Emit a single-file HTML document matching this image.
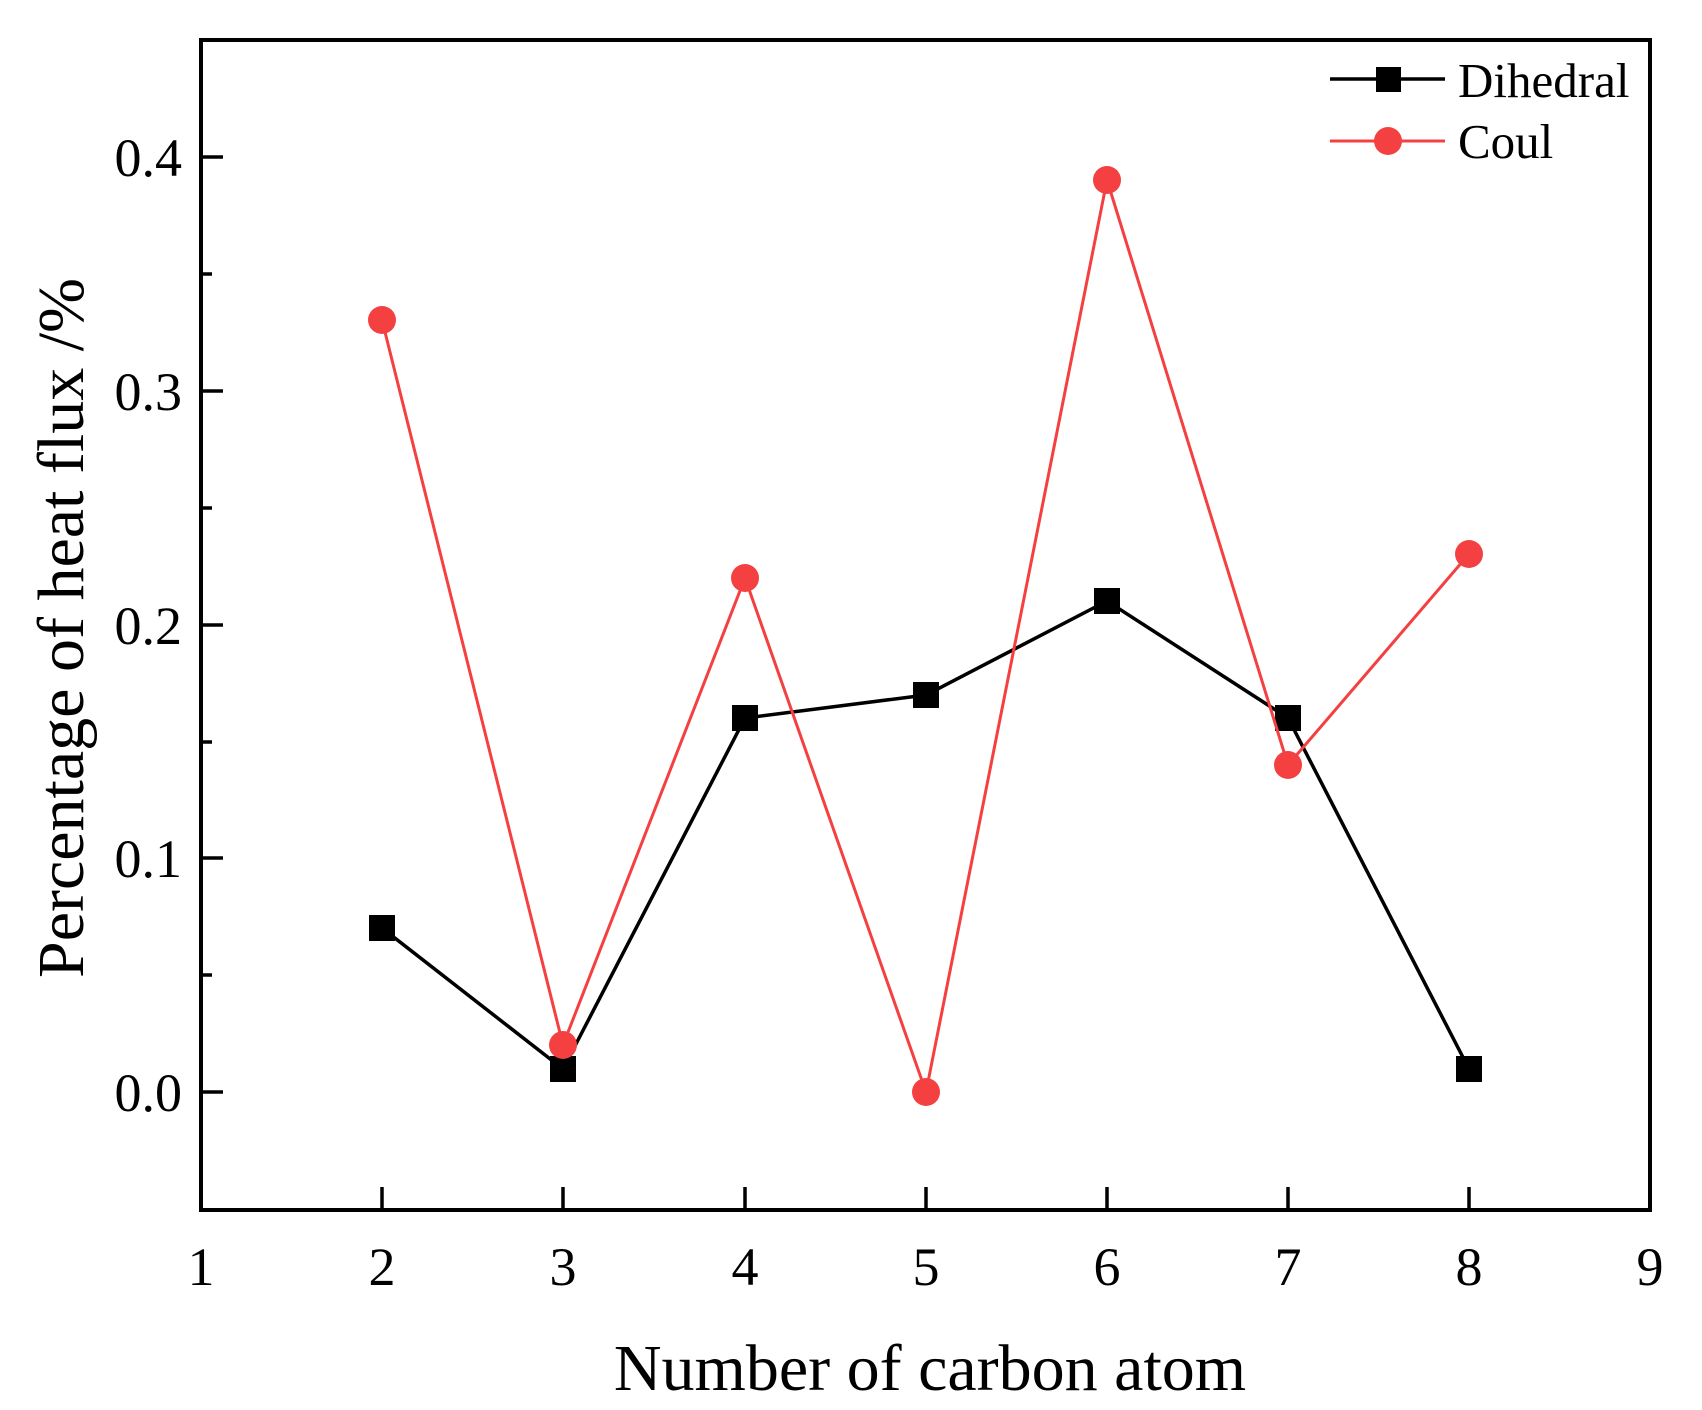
<!DOCTYPE html>
<html><head><meta charset="utf-8"><style>body{margin:0;background:#fff}svg{display:block}</style></head>
<body>
<svg width="1702" height="1410" viewBox="0 0 1702 1410" xmlns="http://www.w3.org/2000/svg" font-family="Liberation Serif, serif">
<rect x="0" y="0" width="1702" height="1410" fill="#fff"/>
<g stroke="#000" stroke-width="3.5">
<line x1="201" y1="157" x2="223" y2="157"/>
<line x1="201" y1="274" x2="212" y2="274"/>
<line x1="201" y1="391" x2="223" y2="391"/>
<line x1="201" y1="508" x2="212" y2="508"/>
<line x1="201" y1="625" x2="223" y2="625"/>
<line x1="201" y1="742" x2="212" y2="742"/>
<line x1="201" y1="858" x2="223" y2="858"/>
<line x1="201" y1="975" x2="212" y2="975"/>
<line x1="201" y1="1092" x2="223" y2="1092"/>
<line x1="382" y1="1210" x2="382" y2="1187"/>
<line x1="563" y1="1210" x2="563" y2="1187"/>
<line x1="745" y1="1210" x2="745" y2="1187"/>
<line x1="926" y1="1210" x2="926" y2="1187"/>
<line x1="1107" y1="1210" x2="1107" y2="1187"/>
<line x1="1288" y1="1210" x2="1288" y2="1187"/>
<line x1="1469" y1="1210" x2="1469" y2="1187"/>
</g>
<rect x="201" y="40" width="1449" height="1170" fill="none" stroke="#000" stroke-width="4"/>
<g font-size="54" fill="#000" text-anchor="end">
<text x="182" y="176">0.4</text>
<text x="182" y="410">0.3</text>
<text x="182" y="644">0.2</text>
<text x="182" y="877">0.1</text>
<text x="182" y="1111">0.0</text>
</g>
<g font-size="54" fill="#000" text-anchor="middle">
<text x="201" y="1285">1</text><text x="382" y="1285">2</text><text x="563" y="1285">3</text>
<text x="745" y="1285">4</text><text x="926" y="1285">5</text><text x="1107" y="1285">6</text>
<text x="1288" y="1285">7</text><text x="1469" y="1285">8</text><text x="1650" y="1285">9</text>
</g>
<text x="930" y="1390" font-size="66" text-anchor="middle">Number of carbon atom</text>
<text transform="translate(83,628) rotate(-90)" font-size="66" text-anchor="middle">Percentage of heat flux /%</text>
<polyline fill="none" stroke="#000" stroke-width="3.5" points="382,928 563,1069 745,718 926,695 1107,601 1288,718 1469,1069"/>
<g fill="#000">
<rect x="369" y="915" width="26" height="26"/><rect x="550" y="1056" width="26" height="26"/>
<rect x="732" y="705" width="26" height="26"/><rect x="913" y="682" width="26" height="26"/>
<rect x="1094" y="588" width="26" height="26"/><rect x="1275" y="705" width="26" height="26"/>
<rect x="1456" y="1056" width="26" height="26"/>
</g>
<polyline fill="none" stroke="#f44040" stroke-width="3" points="382,320 563,1045 745,578 926,1092 1107,180 1288,765 1469,554"/>
<g fill="#f44040">
<circle cx="382" cy="320" r="14"/><circle cx="563" cy="1045" r="14"/><circle cx="745" cy="578" r="14"/>
<circle cx="926" cy="1092" r="14"/><circle cx="1107" cy="180" r="14"/><circle cx="1288" cy="765" r="14"/>
<circle cx="1469" cy="554" r="14"/>
</g>
<line x1="1330" y1="79" x2="1445" y2="79" stroke="#000" stroke-width="3.5"/>
<rect x="1376" y="67" width="25" height="25" fill="#000"/>
<text x="1458" y="97" font-size="49">Dihedral</text>
<line x1="1330" y1="141" x2="1445" y2="141" stroke="#f44040" stroke-width="3"/>
<circle cx="1388" cy="141" r="14" fill="#f44040"/>
<text x="1458" y="158" font-size="49">Coul</text>
</svg>
</body></html>
